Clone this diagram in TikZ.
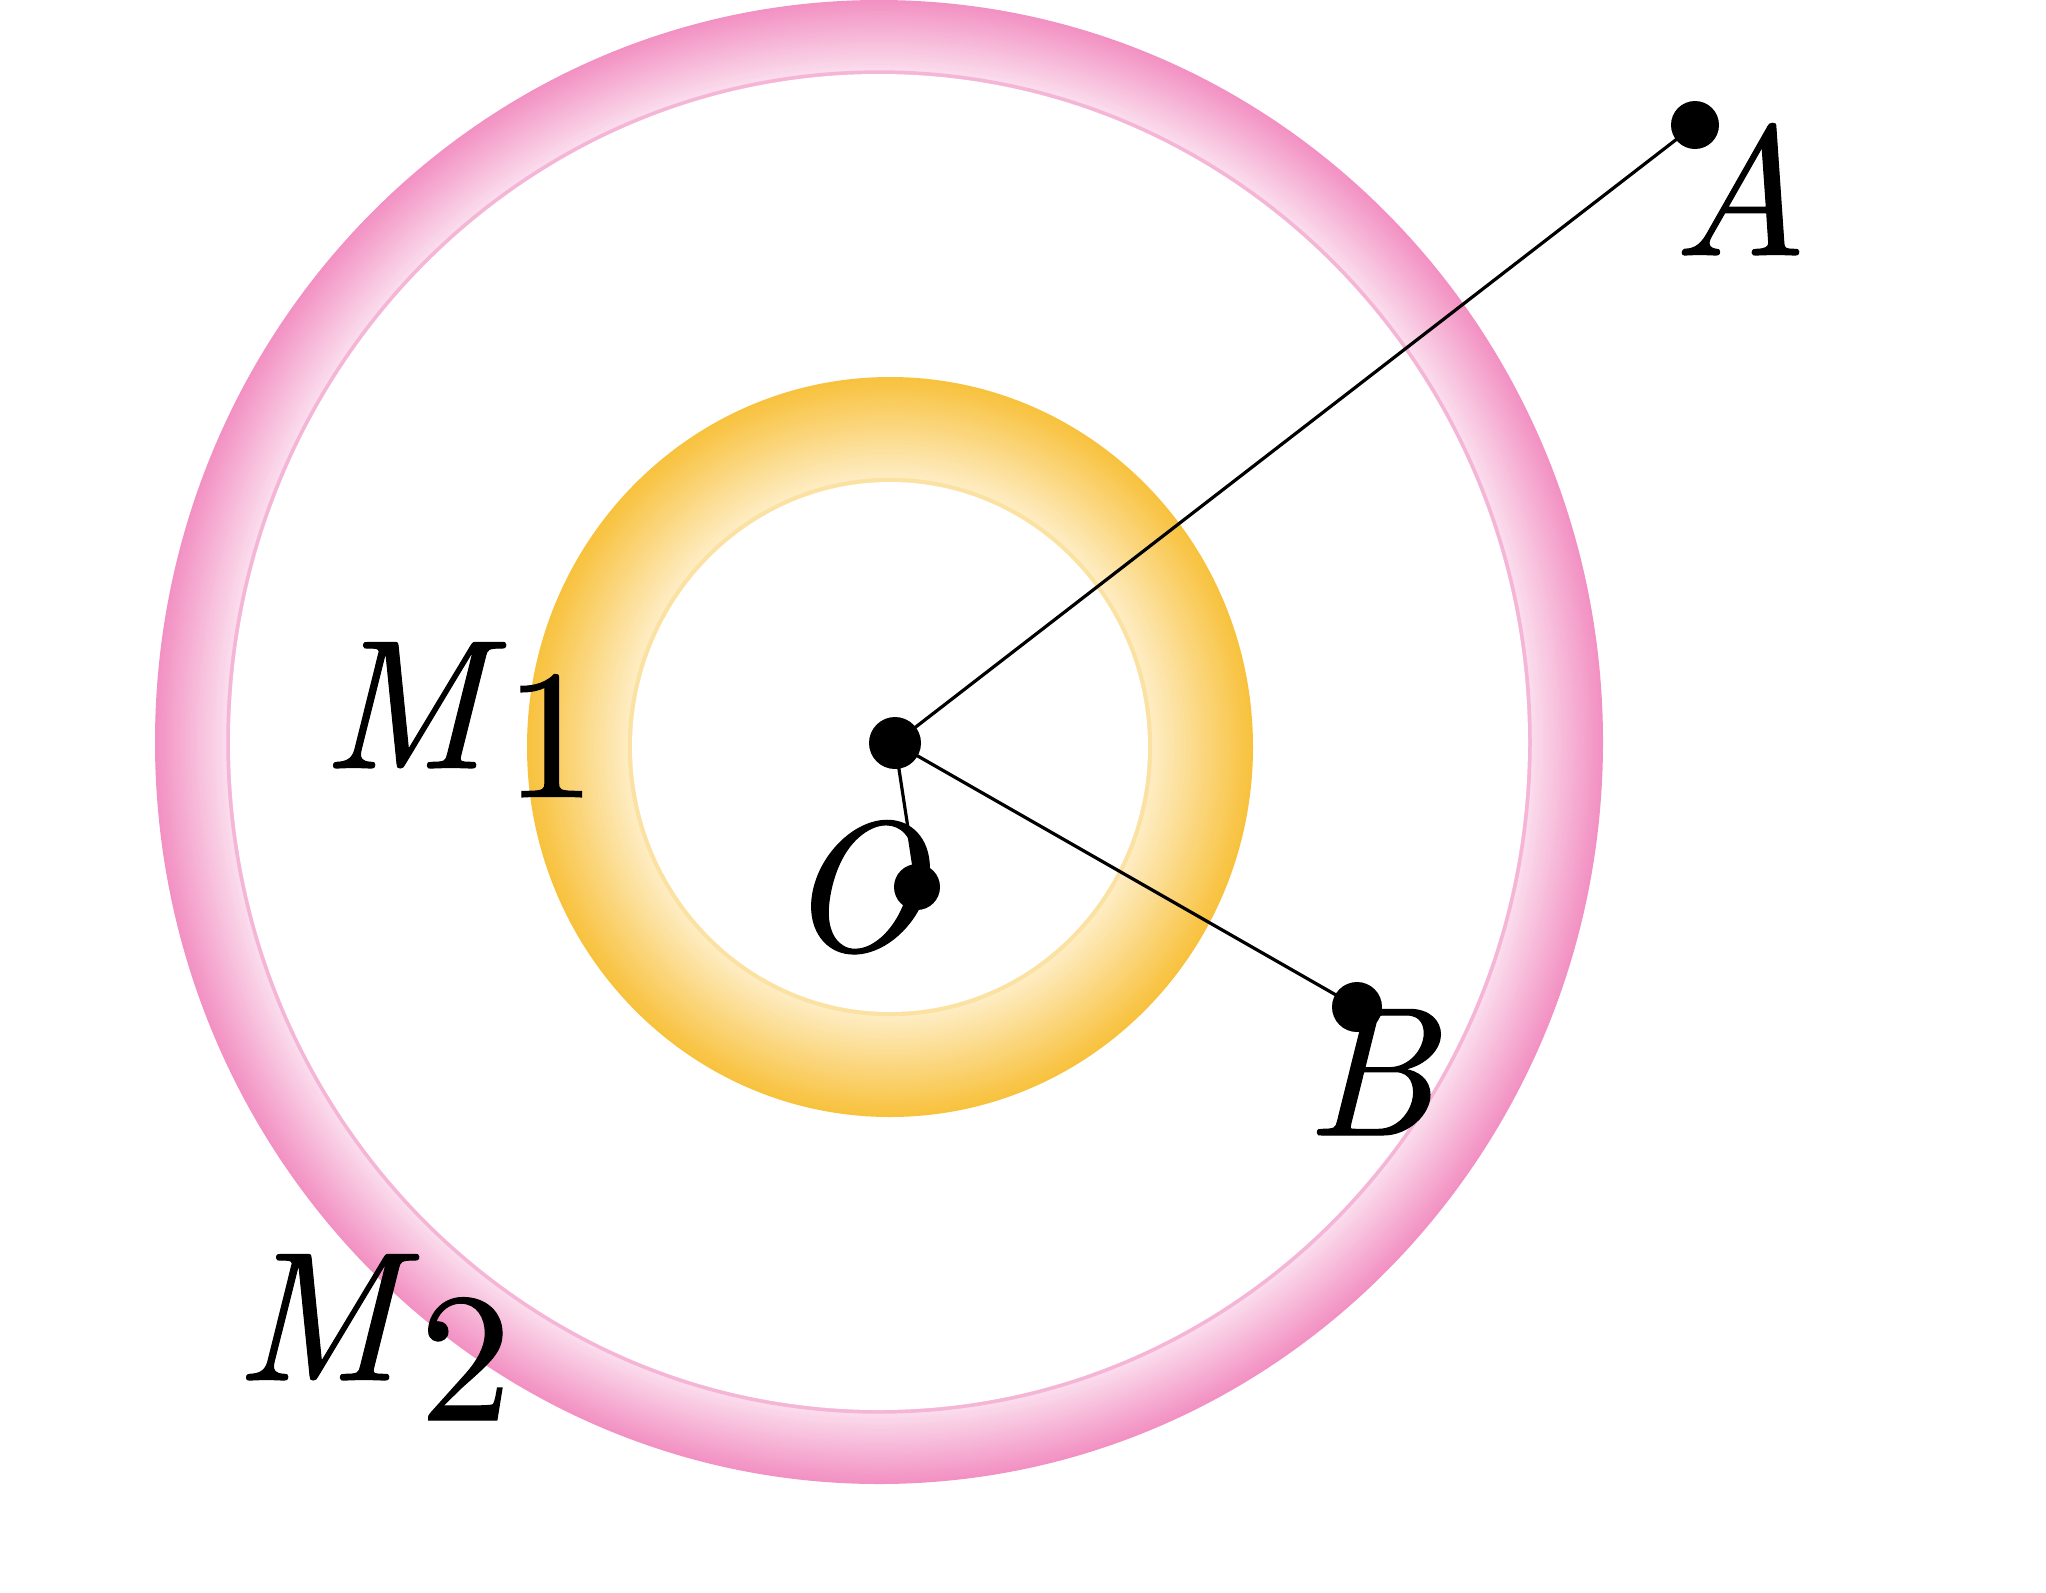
\documentclass[tikz,border=0pt]{standalone}
\usepackage{fontspec}
\newfontfamily\labit{lmroman10-italic}[Extension=.otf,FakeBold=0.6]
\newfontfamily\labrm{lmroman10-regular}[Extension=.otf,FakeBold=0.6]
\definecolor{pinkD}{HTML}{F291C3}
\definecolor{pinkL}{HTML}{FBDCEC}
\definecolor{pinkE}{HTML}{F5B5D7}
\definecolor{yelD}{HTML}{F8C23E}
\definecolor{yelL}{HTML}{FEECC2}
\definecolor{yelE}{HTML}{FCE2A2}
\begin{document}
\begin{tikzpicture}[x=0.5pt,y=-0.5pt,
  dot/.style={circle,fill=black,inner sep=0pt,minimum size=#1},
  lbl/.style={inner sep=0pt,font=\fontsize{92}{92}\selectfont\labit},
  link/.style={line width=1.6pt}]
\useasboundingbox (0,0) rectangle (2046,1592);
% outer pink ring (M2)
\foreach \i in {0,...,40}{
  \pgfmathsetmacro\rx{724-\i*75/40}
  \pgfmathsetmacro\ry{742-\i*74/40}
  \pgfmathtruncatemacro\p{min(100,\i*100/37)}
  \ifnum\i>37
    \fill[pinkE] (879,742) ellipse [x radius=\rx, y radius=\ry];
  \else
    \fill[pinkL!\p!pinkD] (879,742) ellipse [x radius=\rx, y radius=\ry];
  \fi
}
\fill[white] (879,742) ellipse [x radius=649, y radius=668];
% inner yellow ring (M1)
\foreach \i in {0,...,50}{
  \pgfmathsetmacro\rx{363-\i*105/50}
  \pgfmathsetmacro\ry{370-\i*105/50}
  \pgfmathtruncatemacro\p{min(100,\i*100/47)}
  \ifnum\i>47
    \fill[yelE] (890,747) ellipse [x radius=\rx, y radius=\ry];
  \else
    \fill[yelL!\p!yelD] (890,747) ellipse [x radius=\rx, y radius=\ry];
  \fi
}
\fill[white] (890,747) ellipse [x radius=258, y radius=265];
% points
\node[dot=26pt] (o) at (895,743) {};
\node[dot=24pt] (a) at (1695,125) {};
\node[dot=25pt] (b) at (1357,1007) {};
\node[dot=23pt] (c) at (917,887) {};
\draw[link] (o.center) -- (a.center);
\draw[link] (o.center) -- (b.center);
\draw[link] (o.center) -- (c.center);
% labels
\node[lbl,anchor=base west] (la) at (1671,255) {A};
\node[lbl,anchor=base west] (lb) at (1305,1135) {B};
\node[lbl,anchor=base west] (lo) at (784,950) {O};
\node[lbl,anchor=base west] (m1) at (321,768) {M\kern9pt\raisebox{-14.5pt}{\labrm 1}};
\node[lbl,anchor=base west] (m2) at (234,1380) {M\kern10pt\raisebox{-20pt}{\labrm 2}};
\end{tikzpicture}
\end{document}
